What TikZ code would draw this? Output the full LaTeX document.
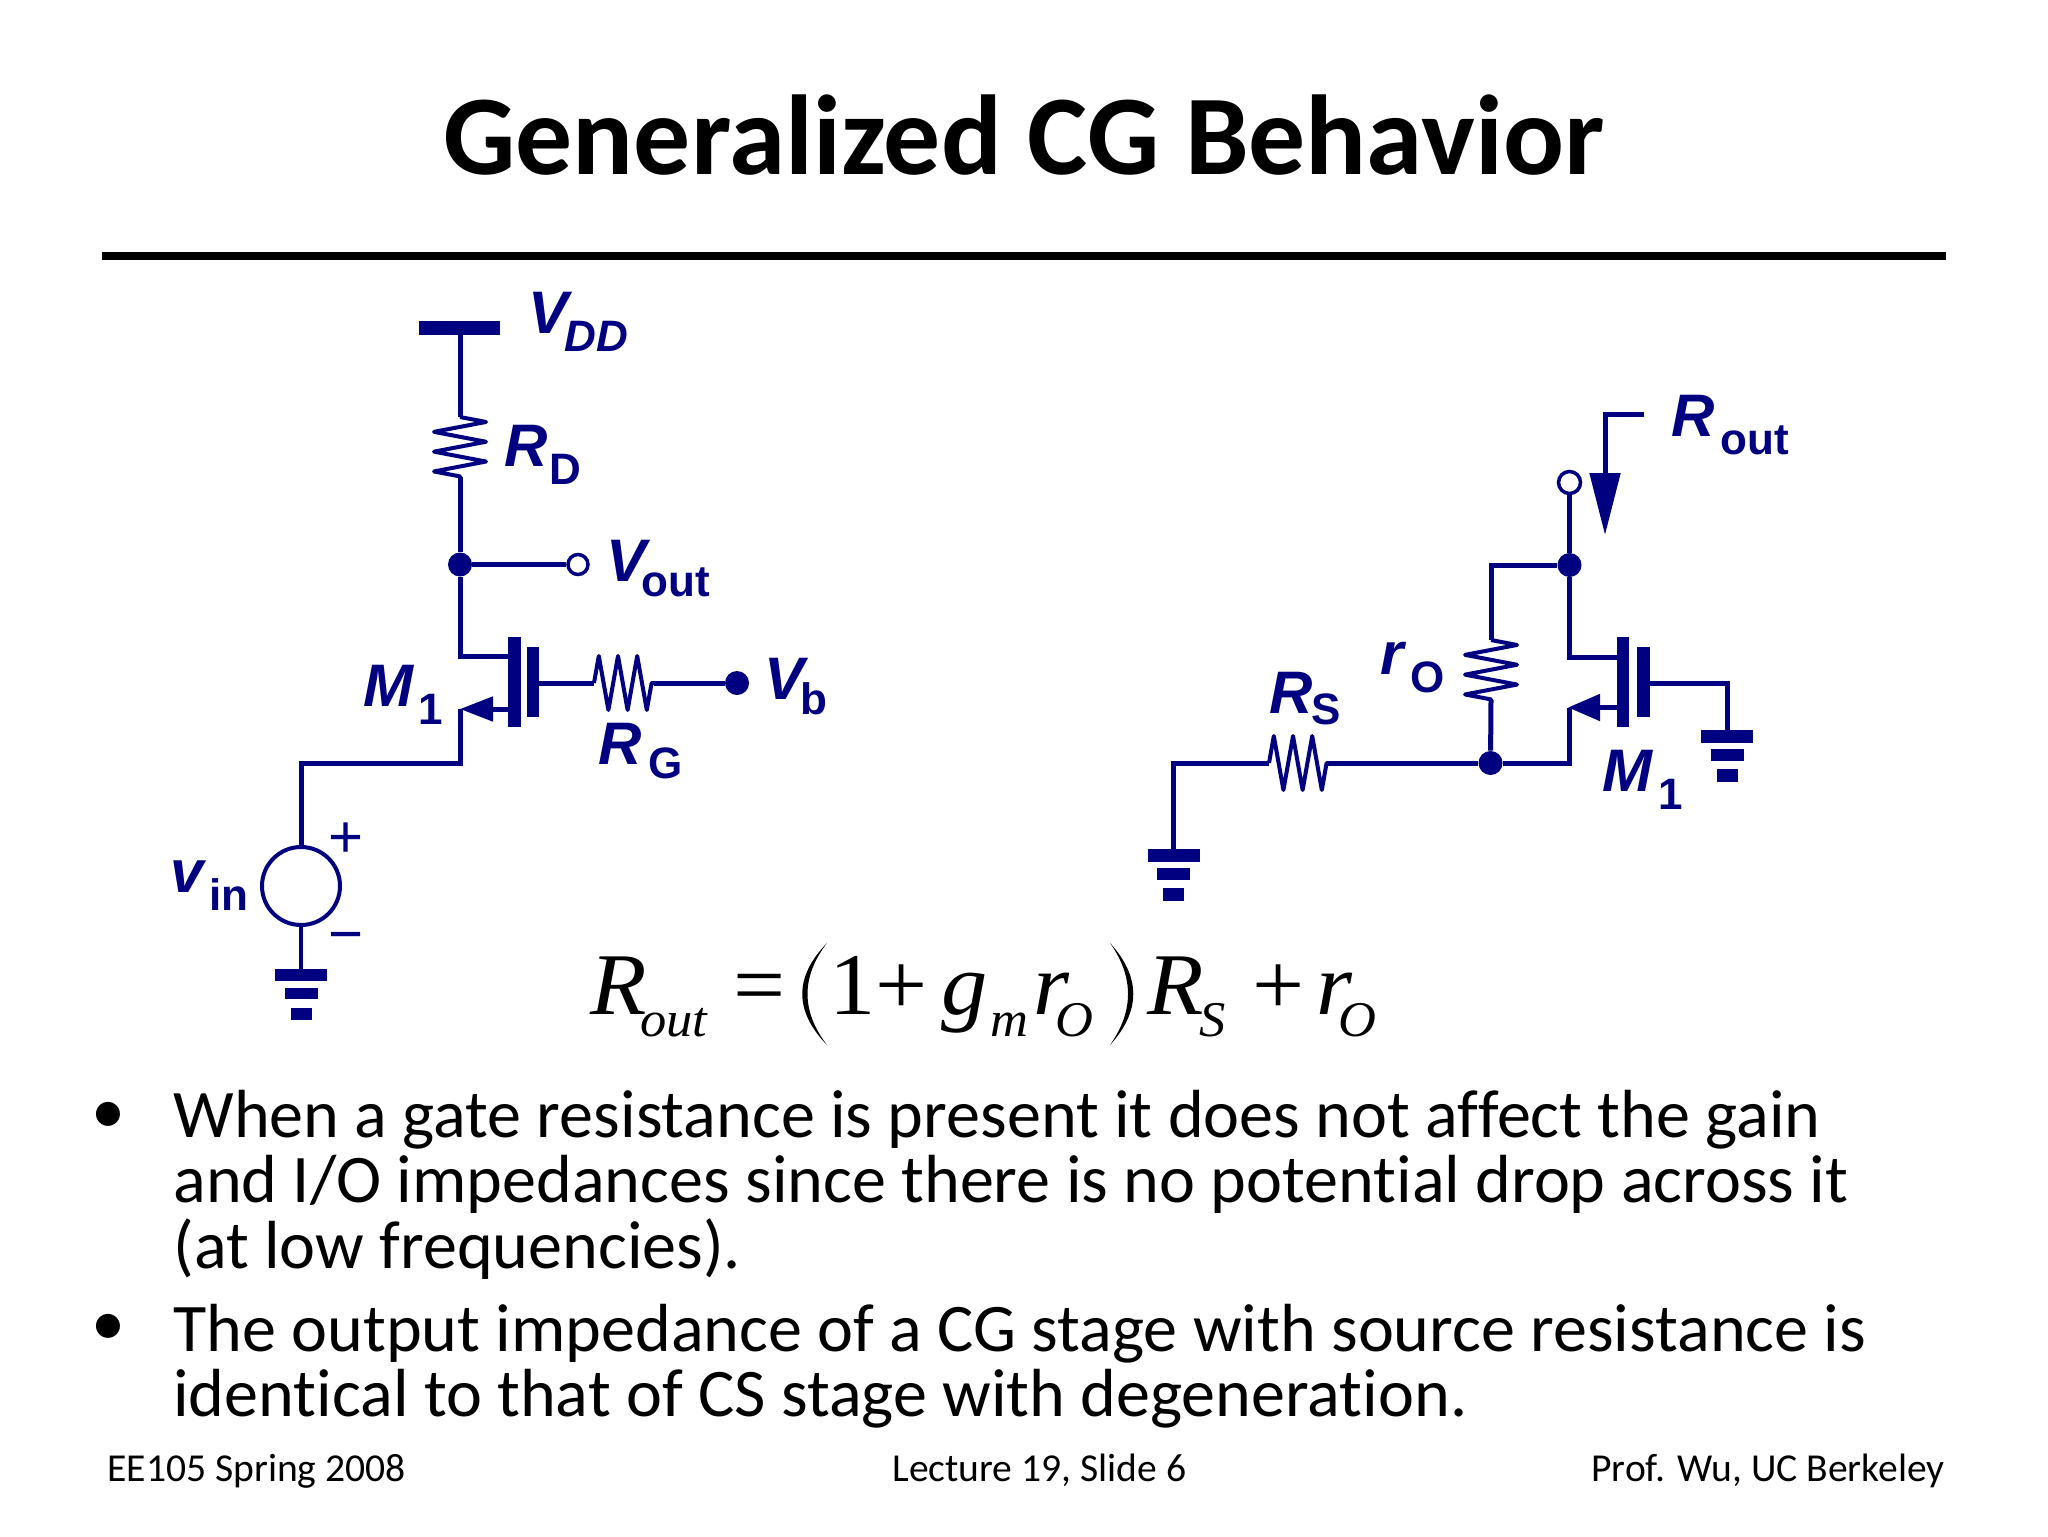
\documentclass[tikz,border=0pt]{standalone}
\usepackage{fontspec}
\setmainfont[Ligatures=NoCommon]{Carlito}
\newfontfamily\cirfont{Liberation Sans}
\newfontfamily\eqfont{Liberation Serif}
\usetikzlibrary{arrows.meta,decorations.pathmorphing}
\definecolor{navy}{RGB}{0,0,128}
\lineskiplimit=-20pt
\newcommand{\cirlab}[4]{\cirfont\bfseries\fontsize{30}{30}\selectfont {\itshape #1}\hspace{#3}\raisebox{-#4}{\fontsize{22}{22}\selectfont #2}}
\newcommand{\eqtxt}[1]{\scalebox{1.05}[1]{\eqfont\fontsize{44}{44}\selectfont #1}}
\newcommand{\eqsub}[1]{\raisebox{-11.25pt}{\fontsize{25}{25}\selectfont\itshape #1}}
\tikzset{
  wire/.style={navy,line width=2.5pt,line join=miter},
  thinwire/.style={navy,line width=2pt},
  dot/.style={circle,fill=navy,inner sep=0pt,minimum size=12pt},
  port/.style={circle,draw=navy,fill=white,line width=1.75pt,inner sep=0pt,minimum size=10pt},
  lab/.style={navy,inner sep=0pt,anchor=base west},
  eqn/.style={black,inner sep=0pt,anchor=base west},
  vres/.style={navy,line width=2pt,line join=round,decorate,decoration={zigzag,amplitude=13pt,segment length=9.9pt}},
  hres/.style={navy,line width=2pt,line join=round,decorate,decoration={zigzag,amplitude=13.5pt,segment length=9.6pt}},
  gnd/.pic={
    \fill[navy] (-26,0) rectangle (26,12.5);
    \fill[navy] (-16.5,19) rectangle (16.5,30.5);
    \fill[navy] (-10.5,39) rectangle (10.5,51.5);
  },
  bullettxt/.style={black,inner sep=0pt,anchor=north west,align=left,font=\fontsize{34.05}{32.6}\selectfont},
  foot/.style={black,inner sep=0pt,anchor=base west,font=\fontsize{19.8}{20}\selectfont}
}
\begin{document}
\begin{tikzpicture}[x=.5pt,y=-.5pt]
  \useasboundingbox (0,0) rectangle (2048,1536);
  \fill[white] (0,0) rectangle (2048,1536);

  \node[inner sep=0pt,anchor=base,font=\bfseries\fontsize{56.8}{60}\selectfont] (title) at (1024,174) {Generalized CG Behavior};
  \draw[line width=4pt] (102,256) -- (1946,256);

  % left circuit
  \fill[navy] (419,320.5) rectangle (500,334.5);
  \coordinate (vdd) at (460,327);
  \coordinate (rdtop) at (460,417);
  \coordinate (rdbot) at (460,477);
  \node[dot] (voutdot) at (460,564.5) {};
  \node[port] (vout) at (578,564.5) {};
  \coordinate (mld) at (508,656);
  \coordinate (mls) at (508,709);
  \coordinate (mlc) at (460,763.5);
  \node[circle,draw=navy,line width=2pt,inner sep=0pt,minimum size=39pt] (vsrc) at (301,886) {};
  \coordinate (gndl) at (301,968.5);
  \coordinate (mlg) at (538,683);
  \coordinate (rgl) at (594,683);
  \coordinate (rgr) at (654,683);
  \node[dot] (vb) at (737,683) {};
  \fill[navy] (508,636.5) rectangle (521,726.5);
  \fill[navy] (527,647) rectangle (538.5,717);
  \draw[wire] (vdd)--(rdtop);
  \draw[vres] (rdtop)--(rdbot);
  \draw[wire] (rdbot)--(voutdot);
  \draw[wire] (voutdot)--(vout);
  \draw[wire] (voutdot)|-(mld);
  \draw[wire,-{Triangle[length=16.5pt,width=12pt]}] (mls)--(460,709);
  \draw[wire] (460,709)--(mlc)-|(vsrc.north);
  \draw[thinwire] (vsrc)--(gndl);
  \draw[wire] (mlg)--(rgl);
  \draw[hres] (rgl)--(rgr);
  \draw[wire] (rgr)--(vb);
  \pic at (gndl) {gnd};
  \node[lab] (lvdd) at (528,333.5) {\cirlab{V}{\itshape DD}{-2pt}{9pt}};
  \node[lab] (lrd) at (504,466.5) {\cirlab{R}{D}{1pt}{9pt}};
  \node[lab] (lvout) at (606,581) {\cirlab{V}{out}{-2.5pt}{7.5pt}};
  \node[lab] (lvb) at (764,699) {\cirlab{V}{b}{-2pt}{7.5pt}};
  \node[lab] (lrg) at (598,764) {\cirlab{R}{G}{3.5pt}{7pt}};
  \node[lab] (lm) at (363,706) {\cirlab{M}{1}{2.5pt}{9pt}};
  \node[lab] (lvin) at (170.5,892) {\cirlab{v}{in}{2.5pt}{9pt}};
  \node[navy,inner sep=0pt,font=\cirfont\fontsize{30}{30}\selectfont] (plus) at (345.7,840) {+};
  \node[navy,inner sep=0pt,font=\cirfont\fontsize{30}{30}\selectfont] (minus) at (345.7,943) {\char"2212};

  % right circuit
  \coordinate (ra) at (1644,414);
  \coordinate (rb) at (1605,535);
  \draw[wire,-{Triangle[length=31pt,width=15pt]}] (ra)-|(rb);
  \node[port,minimum size=11pt] (rout) at (1569.5,482.5) {};
  \node[dot] (rdrain) at (1569.5,565) {};
  \coordinate (mrd) at (1616.5,657);
  \coordinate (mrs) at (1616.5,707.5);
  \node[dot] (rsrc) at (1490.5,763) {};
  \coordinate (rotop) at (1491,640);
  \coordinate (robot) at (1491,700);
  \coordinate (rsr) at (1327,763);
  \coordinate (rsl) at (1269,763);
  \coordinate (gndr) at (1173.5,849);
  \coordinate (mrg) at (1650,683);
  \coordinate (gndg) at (1727,730);
  \fill[navy] (1616.5,637) rectangle (1629,727);
  \fill[navy] (1637,647) rectangle (1650,716.5);
  \draw[wire] (rout)--(rdrain);
  \draw[wire] (rdrain)|-(mrd);
  \draw[wire] (rdrain)-|(rotop);
  \draw[vres] (rotop)--(robot);
  \draw[wire] (robot)--(rsrc);
  \draw[wire] (rsrc)-|(1569,707.5);
  \draw[wire,-{Triangle[length=16pt,width=13pt]}] (mrs)--(1568,707.5);
  \draw[wire] (rsrc)--(rsr);
  \draw[hres] (rsl)--(rsr);
  \draw[wire] (rsl)-|(gndr);
  \draw[wire] (mrg)-|(gndg);
  \pic at (gndr) {gnd};
  \pic at (gndg) {gnd};
  \node[lab] (lrout) at (1671,436) {\cirlab{R}{out}{3pt}{9pt}};
  \node[lab] (lro) at (1380,674) {\cirlab{r}{O}{3.5pt}{9pt}};
  \node[lab] (lrs) at (1269.5,713) {\cirlab{R}{S}{-1pt}{5.5pt}};
  \node[lab] (lmr) at (1602,791.5) {\cirlab{M}{1}{3pt}{9pt}};

  % formula
  \node[eqn] (eleft) at (590,1014) {\eqtxt{\textit{R}\hspace{-3.1pt}\eqsub{out}\hspace{12.4pt}=}};
  \fill (827,943) .. controls (794,977) and (794,1011) .. (827,1045) .. controls (801,1011) and (801,977) .. (827,943);
  \node[eqn] (einner) at (829,1014) {\eqtxt{1+\hspace{6.7pt}\textit{g}\hspace{1.4pt}\eqsub{m}\hspace{2.4pt}\textit{r}\hspace{-6.9pt}\eqsub{O}}};
  \fill (1110,943) .. controls (1141,977) and (1141,1011) .. (1110,1045) .. controls (1134,1011) and (1134,977) .. (1110,943);
  \node[eqn] (eright) at (1147,1014) {\eqtxt{\textit{R}\hspace{-2.1pt}\eqsub{S}\hspace{12.9pt}+\hspace{5.7pt}\textit{r}\hspace{-6.9pt}\eqsub{O}}};

  % bullets
  \node[bullettxt] (bdot1) at (91,1102) {•};
  \node[bullettxt] (b1) at (173,1090) {When a gate resistance is present it does not affect the gain\\and I/O impedances since there is no potential drop across it\\(at low frequencies).};
  \node[bullettxt] (bdot2) at (91,1314) {•};
  \node[bullettxt] (b2) at (173,1303.5) {The output impedance of a CG stage with source resistance is\\identical to that of CS stage with degeneration.};

  \node[foot] (f1) at (107,1481) {EE105 Spring 2008};
  \node[foot] (f2) at (892,1481) {Lecture 19, Slide 6};
  \node[foot] (f3) at (1591,1481) {Prof. Wu, UC Berkeley};
\end{tikzpicture}
\end{document}
